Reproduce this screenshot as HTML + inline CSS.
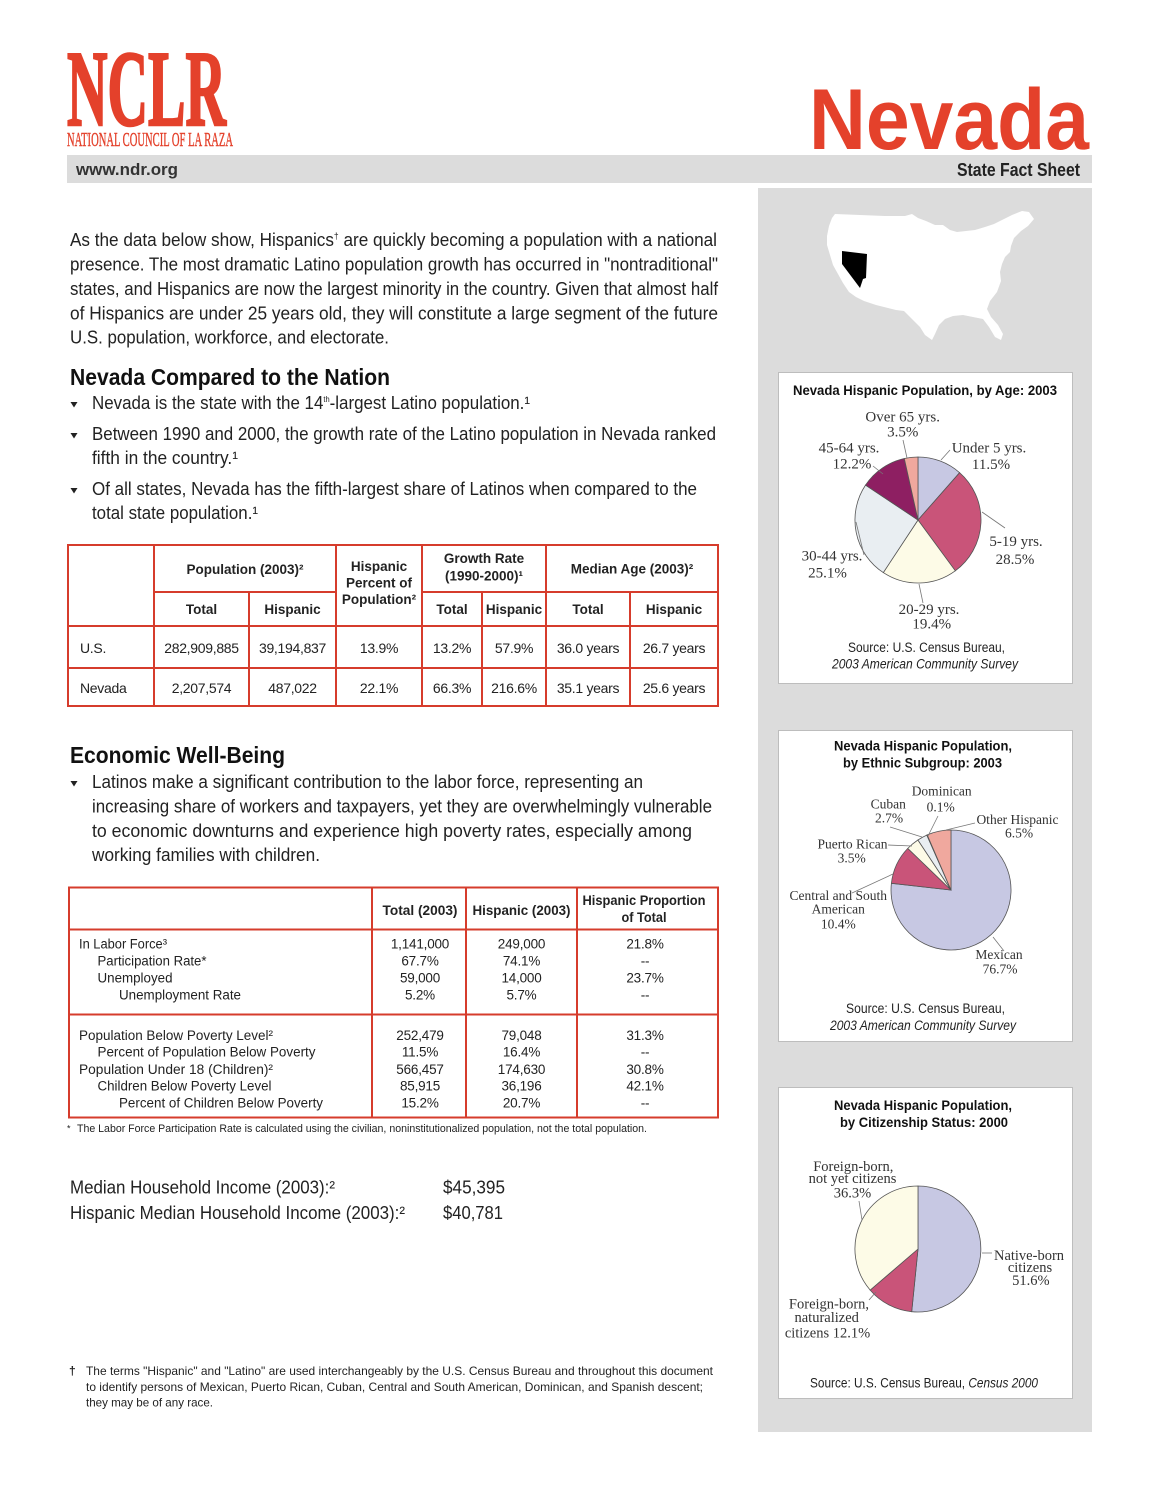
<!DOCTYPE html>
<html>
<head>
<meta charset="utf-8">
<style>
html,body{margin:0;padding:0;background:#fff;}
svg{display:block;}
.s{font-family:"Liberation Sans",Arial,sans-serif;}
.r{font-family:"Liberation Serif","Times New Roman",serif;}
</style>
</head>
<body>
<svg width="1159" height="1500" viewBox="0 0 1159 1500" xmlns="http://www.w3.org/2000/svg">
<rect x="0" y="0" width="1159" height="1500" fill="#ffffff"/>

<!-- Header band and sidebar -->
<rect x="67" y="155" width="1025" height="28" fill="#dcdcdc"/>
<rect x="758" y="188" width="334" height="1244" fill="#dcdcdc"/>

<!-- NCLR logo -->
<text class="r" x="67" y="125" font-size="108" font-weight="bold" fill="#e4412b" stroke="#e4412b" stroke-width="2.5" textLength="159" lengthAdjust="spacingAndGlyphs">NCLR</text>
<text class="r" x="67" y="146" font-size="20" fill="#e4412b" stroke="#e4412b" stroke-width="0.4" textLength="166" lengthAdjust="spacingAndGlyphs">NATIONAL COUNCIL OF LA RAZA</text>
<text class="s" x="76" y="175" font-size="16.5" font-weight="bold" fill="#333" textLength="102" lengthAdjust="spacingAndGlyphs">www.ndr.org</text>

<!-- Nevada title -->
<text class="s" x="809" y="149" font-size="86" font-weight="bold" fill="#e4412b" textLength="280" lengthAdjust="spacingAndGlyphs">Nevada</text>
<text class="s" x="957" y="176" font-size="18" font-weight="bold" fill="#222" textLength="123" lengthAdjust="spacingAndGlyphs">State Fact Sheet</text>

<!-- US map -->
<polygon fill="#ffffff" points="835,214 860,215 885,216 905,216 912,214 918,218 926,221 935,225 943,225 950,230 957,232 966,231 975,230 985,227 994,224 1002,220 1012,215 1022,211 1029,212 1034,219 1028,226 1021,231 1014,238 1011,246 1010,252 1005,257 1002,264 1000,272 1001,281 997,292 990,301 987,309 991,317 998,325 1003,334 1001,340 995,337 989,327 983,319 973,317 963,315 953,316 945,319 939,325 935,334 932,340 925,335 920,327 912,319 904,311 896,310 888,308 876,305 864,301 856,297 849,292 843,283 838,274 833,265 830,255 827,245 827,236 829,226 832,218"/>
<polygon fill="#000000" points="842,251 867,254 866,278 863,279 860,288 842,264"/>

<!-- Intro paragraph -->
<g class="s" font-size="18" fill="#222">
<text x="70" y="246" textLength="647" lengthAdjust="spacingAndGlyphs">As the data below show, Hispanics<tspan font-size="9" dy="-7">†</tspan><tspan dy="7"> are quickly becoming a population with a national</tspan></text>
<text x="70" y="270.5" textLength="648" lengthAdjust="spacingAndGlyphs">presence.  The most dramatic Latino population growth has occurred in "nontraditional"</text>
<text x="70" y="295" textLength="648" lengthAdjust="spacingAndGlyphs">states, and Hispanics are now the largest minority in the country.  Given that almost half</text>
<text x="70" y="319.5" textLength="648" lengthAdjust="spacingAndGlyphs">of Hispanics are under 25 years old, they will constitute a large segment of the future</text>
<text x="70" y="343.5" textLength="319" lengthAdjust="spacingAndGlyphs">U.S. population, workforce, and electorate.</text>
</g>

<!-- Section 1 -->
<text class="s" x="70" y="385" font-size="23" font-weight="bold" fill="#111" textLength="320" lengthAdjust="spacingAndGlyphs">Nevada Compared to the Nation</text>
<g fill="#222">
<polygon points="70.5,402 77.5,402 74,407.5"/>
<polygon points="70.5,433 77.5,433 74,438.5"/>
<polygon points="70.5,488 77.5,488 74,493.5"/>
<polygon points="70.5,781 77.5,781 74,786.5"/>
</g>
<g class="s" font-size="18" fill="#222">
<text x="92" y="409" textLength="438" lengthAdjust="spacingAndGlyphs">Nevada is the state with the 14<tspan font-size="8" dy="-7">th</tspan><tspan dy="7">-largest Latino population.¹</tspan></text>
<text x="92" y="440" textLength="624" lengthAdjust="spacingAndGlyphs">Between 1990 and 2000, the growth rate of the Latino population in Nevada ranked</text>
<text x="92" y="464" textLength="146" lengthAdjust="spacingAndGlyphs">fifth in the country.¹</text>
<text x="92" y="495" textLength="605" lengthAdjust="spacingAndGlyphs">Of all states, Nevada has the fifth-largest share of Latinos when compared to the</text>
<text x="92" y="519" textLength="166" lengthAdjust="spacingAndGlyphs">total state population.¹</text>
</g>

<!-- Table 1 -->
<g stroke="#d63c2c" stroke-width="2" fill="none">
<rect x="68" y="545" width="650" height="161"/>
<line x1="154" y1="545" x2="154" y2="706"/>
<line x1="249" y1="592" x2="249" y2="706"/>
<line x1="336" y1="545" x2="336" y2="706"/>
<line x1="422" y1="545" x2="422" y2="706"/>
<line x1="482" y1="592" x2="482" y2="706"/>
<line x1="546" y1="545" x2="546" y2="706"/>
<line x1="630" y1="592" x2="630" y2="706"/>
<line x1="154" y1="592" x2="336" y2="592"/>
<line x1="422" y1="592" x2="718" y2="592"/>
<line x1="68" y1="626" x2="718" y2="626"/>
<line x1="68" y1="668" x2="718" y2="668"/>
</g>
<g class="s" font-size="13.5" font-weight="bold" fill="#222" text-anchor="middle">
<text x="245" y="574">Population (2003)²</text>
<text x="379" y="571">Hispanic</text>
<text x="379" y="587.5">Percent of</text>
<text x="379" y="604">Population²</text>
<text x="484" y="563">Growth Rate</text>
<text x="484" y="580.5">(1990-2000)¹</text>
<text x="632" y="573.5">Median Age (2003)²</text>
<text x="201.5" y="614">Total</text>
<text x="292.5" y="614">Hispanic</text>
<text x="452" y="614">Total</text>
<text x="514" y="614">Hispanic</text>
<text x="588" y="614">Total</text>
<text x="674" y="614">Hispanic</text>
</g>
<g class="s" font-size="14" fill="#222" text-anchor="middle" letter-spacing="-0.3">
<text x="80" y="653" text-anchor="start">U.S.</text>
<text x="201.5" y="653">282,909,885</text>
<text x="292.5" y="653">39,194,837</text>
<text x="379" y="653">13.9%</text>
<text x="452" y="653">13.2%</text>
<text x="514" y="653">57.9%</text>
<text x="588" y="653">36.0 years</text>
<text x="674" y="653">26.7 years</text>
<text x="80" y="693" text-anchor="start">Nevada</text>
<text x="201.5" y="693">2,207,574</text>
<text x="292.5" y="693">487,022</text>
<text x="379" y="693">22.1%</text>
<text x="452" y="693">66.3%</text>
<text x="514" y="693">216.6%</text>
<text x="588" y="693">35.1 years</text>
<text x="674" y="693">25.6 years</text>
</g>

<!-- Section 2 -->
<text class="s" x="70" y="763" font-size="23" font-weight="bold" fill="#111" textLength="215" lengthAdjust="spacingAndGlyphs">Economic Well-Being</text>
<g class="s" font-size="18" fill="#222">
<text x="92" y="788" textLength="551" lengthAdjust="spacingAndGlyphs">Latinos make a significant contribution to the labor force, representing an</text>
<text x="92" y="812.5" textLength="620" lengthAdjust="spacingAndGlyphs">increasing share of workers and taxpayers, yet they are overwhelmingly vulnerable</text>
<text x="92" y="837" textLength="600" lengthAdjust="spacingAndGlyphs">to economic downturns and experience high poverty rates, especially among</text>
<text x="92" y="861" textLength="228" lengthAdjust="spacingAndGlyphs">working families with children.</text>
</g>

<!-- Table 2 -->
<g stroke="#d63c2c" stroke-width="2" fill="none">
<rect x="69" y="887.5" width="649" height="230"/>
<line x1="372" y1="887.5" x2="372" y2="1117.5"/>
<line x1="466" y1="887.5" x2="466" y2="1117.5"/>
<line x1="577" y1="887.5" x2="577" y2="1117.5"/>
<line x1="69" y1="929.5" x2="718" y2="929.5"/>
<line x1="69" y1="1014.5" x2="718" y2="1014.5"/>
</g>
<g class="s" font-size="13.5" font-weight="bold" fill="#222" text-anchor="middle">
<text x="420" y="915" textLength="75" lengthAdjust="spacingAndGlyphs">Total (2003)</text>
<text x="521.5" y="915" textLength="98" lengthAdjust="spacingAndGlyphs">Hispanic (2003)</text>
<text x="644" y="905" textLength="123" lengthAdjust="spacingAndGlyphs">Hispanic Proportion</text>
<text x="644" y="922" textLength="45" lengthAdjust="spacingAndGlyphs">of Total</text>
</g>
<g class="s" font-size="13.5" fill="#222">
<text x="79" y="948.3" textLength="88" lengthAdjust="spacingAndGlyphs">In Labor Force³</text>
<text x="97.5" y="965.7" textLength="109" lengthAdjust="spacingAndGlyphs">Participation Rate*</text>
<text x="97.5" y="982.7" textLength="75" lengthAdjust="spacingAndGlyphs">Unemployed</text>
<text x="119" y="999.3" textLength="122" lengthAdjust="spacingAndGlyphs">Unemployment Rate</text>
<text x="79" y="1040" textLength="194" lengthAdjust="spacingAndGlyphs">Population Below Poverty Level²</text>
<text x="97.5" y="1056.7" textLength="218" lengthAdjust="spacingAndGlyphs">Percent of Population Below Poverty</text>
<text x="79" y="1074" textLength="194" lengthAdjust="spacingAndGlyphs">Population Under 18 (Children)²</text>
<text x="97.5" y="1090.7" textLength="174" lengthAdjust="spacingAndGlyphs">Children Below Poverty Level</text>
<text x="119" y="1107.7" textLength="204" lengthAdjust="spacingAndGlyphs">Percent of Children Below Poverty</text>
</g>
<g class="s" font-size="13.5" fill="#222" text-anchor="middle" letter-spacing="-0.2">
<text x="420" y="948.3">1,141,000</text><text x="521.5" y="948.3">249,000</text><text x="645" y="948.3">21.8%</text>
<text x="420" y="965.7">67.7%</text><text x="521.5" y="965.7">74.1%</text><text x="645" y="965.7">--</text>
<text x="420" y="982.7">59,000</text><text x="521.5" y="982.7">14,000</text><text x="645" y="982.7">23.7%</text>
<text x="420" y="999.3">5.2%</text><text x="521.5" y="999.3">5.7%</text><text x="645" y="999.3">--</text>
<text x="420" y="1040">252,479</text><text x="521.5" y="1040">79,048</text><text x="645" y="1040">31.3%</text>
<text x="420" y="1056.7">11.5%</text><text x="521.5" y="1056.7">16.4%</text><text x="645" y="1056.7">--</text>
<text x="420" y="1074">566,457</text><text x="521.5" y="1074">174,630</text><text x="645" y="1074">30.8%</text>
<text x="420" y="1090.7">85,915</text><text x="521.5" y="1090.7">36,196</text><text x="645" y="1090.7">42.1%</text>
<text x="420" y="1107.7">15.2%</text><text x="521.5" y="1107.7">20.7%</text><text x="645" y="1107.7">--</text>
</g>
<text class="s" x="67" y="1131.5" font-size="9" fill="#222">*</text>
<text class="s" x="77" y="1132" font-size="11" fill="#222" textLength="570" lengthAdjust="spacingAndGlyphs">The Labor Force Participation Rate is calculated using the civilian, noninstitutionalized population, not the total population.</text>

<!-- Income -->
<g class="s" font-size="18" fill="#222">
<text x="70" y="1193.3" textLength="265" lengthAdjust="spacingAndGlyphs">Median Household Income (2003):²</text>
<text x="70" y="1219" textLength="335" lengthAdjust="spacingAndGlyphs">Hispanic Median Household Income (2003):²</text>
<text x="443" y="1193.3" textLength="62" lengthAdjust="spacingAndGlyphs">$45,395</text>
<text x="443" y="1219" textLength="60" lengthAdjust="spacingAndGlyphs">$40,781</text>
</g>

<!-- Dagger footnote -->
<g class="s" font-size="12" fill="#222">
<text x="69" y="1375" font-weight="bold">†</text>
<text x="86" y="1375" textLength="627" lengthAdjust="spacingAndGlyphs">The terms "Hispanic" and "Latino" are used interchangeably by the U.S. Census Bureau and throughout this document</text>
<text x="86" y="1391" textLength="617" lengthAdjust="spacingAndGlyphs">to identify persons of Mexican, Puerto Rican, Cuban, Central and South American, Dominican, and Spanish descent;</text>
<text x="86" y="1406.7" textLength="127" lengthAdjust="spacingAndGlyphs">they may be of any race.</text>
</g>

<!-- Panels -->
<g fill="#ffffff" stroke="#bdbdbd" stroke-width="1">
<rect x="778.5" y="372.5" width="294" height="311"/>
<rect x="778.5" y="730.5" width="294" height="311"/>
<rect x="778.5" y="1087.5" width="294" height="311"/>
</g>

<!-- Panel 1 -->
<text class="s" x="925" y="395" font-size="13.5" font-weight="bold" fill="#111" text-anchor="middle" textLength="264" lengthAdjust="spacingAndGlyphs">Nevada Hispanic Population, by Age: 2003</text>
<g stroke="#555" stroke-width="0.8">
<path d="M918,520 L918,457 A63,63 0 0,1 959.6,472.7 Z" fill="#c7c8e3"/>
<path d="M918,520 L959.6,472.7 A63,63 0 0,1 955.3,570.8 Z" fill="#c95479"/>
<path d="M918,520 L955.3,570.8 A63,63 0 0,1 883.3,572.6 Z" fill="#fdfbe7"/>
<path d="M918,520 L883.3,572.6 A63,63 0 0,1 865.5,485.1 Z" fill="#e9eef2"/>
<path d="M918,520 L865.5,485.1 A63,63 0 0,1 904.3,458.5 Z" fill="#8e1f62"/>
<path d="M918,520 L904.3,458.5 A63,63 0 0,1 918,457 Z" fill="#f0a89e"/>
</g>
<g stroke="#777" stroke-width="0.8">
<line x1="903" y1="440" x2="907" y2="458"/>
<line x1="873" y1="466" x2="883" y2="474"/>
<line x1="950" y1="450" x2="941" y2="460"/>
<line x1="982" y1="512" x2="1005" y2="528"/>
<line x1="864" y1="555" x2="856" y2="522"/>
<line x1="919" y1="584" x2="923" y2="603"/>
</g>
<g class="r" font-size="15" fill="#333" text-anchor="middle">
<text x="902.7" y="421.7">Over 65 yrs.</text>
<text x="902.7" y="436.7">3.5%</text>
<text x="849" y="452.7">45-64 yrs.</text>
<text x="852" y="468.3">12.2%</text>
<text x="989" y="452.7">Under 5 yrs.</text>
<text x="991" y="469">11.5%</text>
<text x="1016" y="546">5-19 yrs.</text>
<text x="1015" y="564">28.5%</text>
<text x="832" y="560.7">30-44 yrs.</text>
<text x="827.5" y="577.3">25.1%</text>
<text x="929" y="614">20-29 yrs.</text>
<text x="931.7" y="628.3">19.4%</text>
</g>
<g class="s" font-size="13.5" fill="#222" text-anchor="middle">
<text x="926.5" y="652" textLength="157" lengthAdjust="spacingAndGlyphs">Source: U.S. Census Bureau,</text>
<text x="925" y="668.5" font-style="italic" textLength="186" lengthAdjust="spacingAndGlyphs">2003 American Community Survey</text>
</g>

<!-- Panel 2 -->
<g class="s" font-size="13.5" font-weight="bold" fill="#111" text-anchor="middle">
<text x="923" y="750.5" textLength="178" lengthAdjust="spacingAndGlyphs">Nevada Hispanic Population,</text>
<text x="922.5" y="767.5" textLength="159" lengthAdjust="spacingAndGlyphs">by Ethnic Subgroup: 2003</text>
</g>
<g stroke="#555" stroke-width="0.8">
<path d="M951,890 L951,830 A60,60 0 1,1 891.4,883.3 Z" fill="#c7c8e3"/>
<path d="M951,890 L891.4,883.3 A60,60 0 0,1 907.8,848.4 Z" fill="#c95479"/>
<path d="M951,890 L907.8,848.4 A60,60 0 0,1 917.9,840 Z" fill="#fdfbe7"/>
<path d="M951,890 L917.9,840 A60,60 0 0,1 926.8,835.1 Z" fill="#e9eef2"/>
<path d="M951,890 L926.8,835.1 A60,60 0 0,1 927.2,834.9 Z" fill="#8e1f62"/>
<path d="M951,890 L927.2,834.9 A60,60 0 0,1 951,830 Z" fill="#f0a89e"/>
</g>
<g stroke="#777" stroke-width="0.8">
<line x1="938" y1="816" x2="928" y2="836"/>
<line x1="890" y1="827" x2="922" y2="837"/>
<line x1="975" y1="823" x2="946" y2="830"/>
<line x1="888" y1="845" x2="912" y2="846"/>
<line x1="852" y1="893" x2="893" y2="874"/>
<line x1="993" y1="937" x2="1004" y2="951"/>
</g>
<g class="r" font-size="13.5" fill="#333" text-anchor="middle">
<text x="941.7" y="795.7">Dominican</text>
<text x="940.7" y="811.7">0.1%</text>
<text x="888.3" y="808.3">Cuban</text>
<text x="889" y="822.7">2.7%</text>
<text x="1017.5" y="824">Other Hispanic</text>
<text x="1019" y="837.3">6.5%</text>
<text x="852.5" y="848.3">Puerto Rican</text>
<text x="851.7" y="862.3">3.5%</text>
<text x="838.3" y="900">Central and South</text>
<text x="838.3" y="913.3">American</text>
<text x="838.3" y="928.3">10.4%</text>
<text x="999" y="959">Mexican</text>
<text x="1000" y="973.3">76.7%</text>
</g>
<g class="s" font-size="13.5" fill="#222" text-anchor="middle">
<text x="925.5" y="1013" textLength="159" lengthAdjust="spacingAndGlyphs">Source: U.S. Census Bureau,</text>
<text x="923" y="1030" font-style="italic" textLength="186" lengthAdjust="spacingAndGlyphs">2003 American Community Survey</text>
</g>

<!-- Panel 3 -->
<g class="s" font-size="13.5" font-weight="bold" fill="#111" text-anchor="middle">
<text x="923" y="1110" textLength="178" lengthAdjust="spacingAndGlyphs">Nevada Hispanic Population,</text>
<text x="924" y="1127" textLength="168" lengthAdjust="spacingAndGlyphs">by Citizenship Status: 2000</text>
</g>
<g stroke="#555" stroke-width="0.8">
<path d="M918,1249 L918,1186 A63,63 0 1,1 911.7,1311.7 Z" fill="#c7c8e3"/>
<path d="M918,1249 L911.7,1311.7 A63,63 0 0,1 870.2,1290.1 Z" fill="#c95479"/>
<path d="M918,1249 L870.2,1290.1 A63,63 0 0,1 918,1186 Z" fill="#fdfbe7"/>
</g>
<g stroke="#777" stroke-width="0.8">
<line x1="859" y1="1201" x2="862" y2="1220"/>
<line x1="982" y1="1253" x2="992" y2="1253"/>
<line x1="869" y1="1300" x2="876" y2="1292"/>
</g>
<g class="r" font-size="14.5" fill="#333" text-anchor="middle">
<text x="853.3" y="1171">Foreign-born,</text>
<text x="852.5" y="1183">not yet citizens</text>
<text x="852.5" y="1197.3">36.3%</text>
<text x="1029" y="1260">Native-born</text>
<text x="1030" y="1272">citizens</text>
<text x="1030.8" y="1285">51.6%</text>
<text x="829" y="1308.3">Foreign-born,</text>
<text x="826.7" y="1322">naturalized</text>
<text x="827.5" y="1337.3">citizens 12.1%</text>
</g>
<text class="s" x="810" y="1387.5" font-size="13.5" fill="#222" textLength="228" lengthAdjust="spacingAndGlyphs">Source: U.S. Census Bureau, <tspan font-style="italic">Census 2000</tspan></text>

</svg>
</body>
</html>
